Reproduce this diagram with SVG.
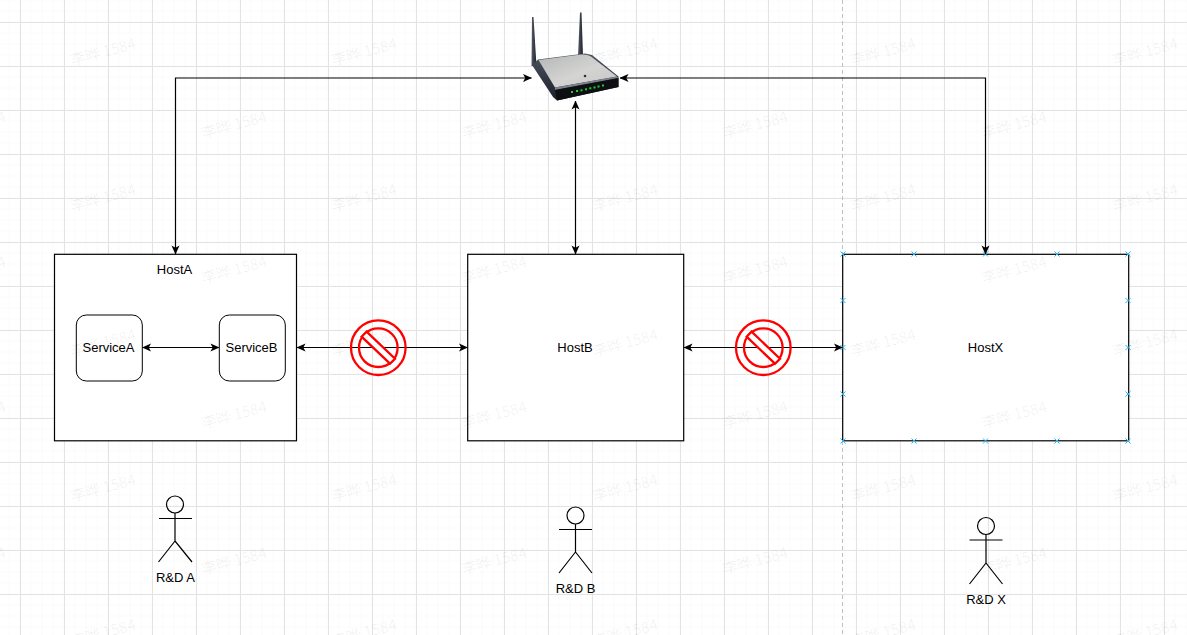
<svg xmlns="http://www.w3.org/2000/svg" width="1187" height="635" viewBox="0 0 1187 635">
<style>
text{font-family:"Liberation Sans",Arial,sans-serif;font-size:13px;fill:#000;text-anchor:middle}
.wm{font-family:"Noto Sans CJK SC","Liberation Sans",sans-serif;font-size:15px;fill:#000;fill-opacity:.06}
.box{fill:#fff;stroke:#000;stroke-width:1.2}
.svc{fill:#fff;stroke:#000;stroke-width:1}
.c{fill:none;stroke:#000;stroke-width:1.2;marker-start:url(#a);marker-end:url(#a)}
.actor{fill:none;stroke:#000;stroke-width:1.2}
.no{fill:none;stroke:#f00;stroke-width:2.3}
.bar{fill:#fff;stroke:#f00;stroke-width:2.3}
.x{stroke:#29b6f2;stroke-width:1;fill:none}
</style>
<defs>
<pattern id="minor" x="9.5" y="0.5" width="11" height="11" patternUnits="userSpaceOnUse"><path d="M11 0V11M0 11H11" fill="none" stroke="#f5f5f5" stroke-width="1"/></pattern>
<pattern id="major" x="20" y="22" width="44" height="44" patternUnits="userSpaceOnUse"><path d="M.5 0V44M0 .5H44" fill="none" stroke="#e3e3e3" stroke-width="1"/></pattern>
<marker id="a" viewBox="0 0 10 10" refX="9.5" refY="5" markerWidth="9" markerHeight="9" markerUnits="userSpaceOnUse" orient="auto-start-reverse"><path d="M0 .5L10 5L0 9.5L2.5 5Z" fill="#000"/></marker>
<linearGradient id="top" x1="0" y1="0" x2="1" y2="1"><stop offset="0" stop-color="#b4b6b5"/><stop offset=".55" stop-color="#d4d5d3"/><stop offset="1" stop-color="#c4c5c4"/></linearGradient>
<linearGradient id="rim" x1="0" y1="0" x2="0" y2="1"><stop offset="0" stop-color="#4d5462"/><stop offset="1" stop-color="#1c2029"/></linearGradient>
<linearGradient id="ant" x1="0" x2="1"><stop offset="0" stop-color="#555b66"/><stop offset="1" stop-color="#1c2028"/></linearGradient>
<g id="wm"><text class="wm" transform="rotate(-15)">李晔 1584</text></g>
<path id="mk" class="x" d="M-2.5 -2.5L2.5 2.5M-2.5 2.5L2.5 -2.5"/>
<g id="nosign"><circle class="no" r="27.300"/><circle class="no" r="19.300"/><path class="bar" d="M-16.700 -11L-11.700 -16L16.700 11L11.700 16Z"/></g>
</defs>
<rect width="1187" height="635" fill="#fff"/>
<rect width="1187" height="635" fill="url(#minor)"/>
<rect width="1187" height="635" fill="url(#major)"/>
<path d="M842.5 0V635" stroke="#c0c0c0" stroke-width="1" stroke-dasharray="4 3" fill="none"/>
<g id="hostA"><rect class="box" x="54.500" y="254.300" width="242" height="186.500"/><text x="174.500" y="274">HostA</text></g>
<g id="hostB"><rect class="box" x="467.700" y="254.300" width="216" height="186.500"/><text x="575" y="352">HostB</text></g>
<g id="hostX"><rect class="box" x="842.700" y="254.300" width="286" height="186.500"/><text x="985.500" y="352">HostX</text>
<use href="#mk" x="843" y="254"/><use href="#mk" x="914" y="254"/><use href="#mk" x="985.500" y="254"/><use href="#mk" x="1057" y="254"/><use href="#mk" x="1128" y="254"/>
<use href="#mk" x="843" y="300.500"/><use href="#mk" x="1128" y="300.500"/><use href="#mk" x="843" y="347.500"/><use href="#mk" x="1128" y="347.500"/><use href="#mk" x="843" y="394"/><use href="#mk" x="1128" y="394"/>
<use href="#mk" x="843" y="441"/><use href="#mk" x="914" y="441"/><use href="#mk" x="985.500" y="441"/><use href="#mk" x="1057" y="441"/><use href="#mk" x="1128" y="441"/></g>
<g id="serviceA"><rect class="svc" x="76.300" y="315" width="66" height="66" rx="10"/><text x="108.500" y="352">ServiceA</text></g>
<g id="serviceB"><rect class="svc" x="219.300" y="315" width="66" height="66" rx="10"/><text x="251.500" y="352">ServiceB</text></g>
<g id="connectors">
<path class="c" d="M175.500 254V78H531.500"/>
<path class="c" d="M985.500 254V78H620"/>
<path class="c" d="M575.500 254V101"/>
<path class="c" d="M142.500 347.500H219"/>
<path class="c" d="M297 347.500H467.500"/>
<path class="c" d="M684 347.500H842.500"/>
</g>
<g id="block1" transform="translate(378.300 347.700)"><use href="#nosign"/></g>
<g id="block2" transform="translate(763.300 347.700)"><use href="#nosign"/></g>
<g id="router">
<path d="M532 17L533.500 17L536.500 66L531.500 66Z" fill="url(#ant)"/>
<path d="M580 12.500L581.500 12.500L583 56L578 56Z" fill="url(#ant)"/>
<path d="M532 65L538 59.500L585 53.500L592 55L618.500 76.500L618.500 87L557 100.500L553 97Z" fill="url(#rim)"/>
<path d="M538.500 60L581 54.500Q587 54 591 56.500L617 76.500L555 87.500Z" fill="url(#top)"/>
<path d="M555 87.500L617 76.500L618.500 78L555 90Z" fill="#7d8288"/>
<path d="M555 90L618.500 78L618.500 87L557 100.500Z" fill="#0e0f12"/>
<g fill="#1fd02a"><rect x="571" y="91" width="2" height="2"/><rect x="576" y="90" width="2" height="2"/><rect x="580.500" y="89.300" width="2" height="2"/><rect x="585" y="88.300" width="2" height="2"/><rect x="589.300" y="87.300" width="2" height="2"/><rect x="593.500" y="86.500" width="2" height="2"/><rect x="597.500" y="85.500" width="2" height="2"/><rect x="602" y="84.500" width="2" height="2"/></g>
<circle cx="585" cy="76" r="1.300" fill="#333"/>
</g>
<g id="actorA"><circle class="actor" cx="175" cy="504.500" r="8.500"/><path class="actor" d="M175 513V541M159 518.500H192M175 541L158.500 562M175 541L192 562"/><text x="175.500" y="582">R&amp;D A</text></g>
<g id="actorB"><circle class="actor" cx="575.500" cy="515.500" r="8.500"/><path class="actor" d="M575.500 524V552M559 529.500H592M575.500 552L559 573M575.500 552L592 573"/><text x="575.500" y="593">R&amp;D B</text></g>
<g id="actorX"><circle class="actor" cx="986" cy="526" r="8.500"/><path class="actor" d="M986 535V563M969.500 540H1002.500M986 563L969.500 584M986 563L1002.500 584"/><text x="986" y="604">R&amp;D X</text></g>
<g id="watermarks" transform="translate(1.500 0)">
<use href="#wm" x="103" y="57"/><use href="#wm" x="364" y="57"/><use href="#wm" x="625" y="57"/><use href="#wm" x="883" y="57"/><use href="#wm" x="1145" y="57"/>
<use href="#wm" x="-27" y="130"/><use href="#wm" x="234" y="130"/><use href="#wm" x="494" y="130"/><use href="#wm" x="755" y="130"/><use href="#wm" x="1014" y="130"/>
<use href="#wm" x="103" y="203"/><use href="#wm" x="364" y="203"/><use href="#wm" x="625" y="203"/><use href="#wm" x="883" y="203"/><use href="#wm" x="1145" y="203"/>
<use href="#wm" x="-27" y="275"/><use href="#wm" x="234" y="275"/><use href="#wm" x="494" y="275"/><use href="#wm" x="755" y="275"/><use href="#wm" x="1014" y="275"/>
<use href="#wm" x="103" y="348"/><use href="#wm" x="364" y="348"/><use href="#wm" x="625" y="348"/><use href="#wm" x="883" y="348"/><use href="#wm" x="1145" y="348"/>
<use href="#wm" x="-27" y="420"/><use href="#wm" x="234" y="420"/><use href="#wm" x="494" y="420"/><use href="#wm" x="755" y="420"/><use href="#wm" x="1014" y="420"/>
<use href="#wm" x="103" y="493"/><use href="#wm" x="364" y="493"/><use href="#wm" x="625" y="493"/><use href="#wm" x="883" y="493"/><use href="#wm" x="1145" y="493"/>
<use href="#wm" x="-27" y="566"/><use href="#wm" x="234" y="566"/><use href="#wm" x="494" y="566"/><use href="#wm" x="755" y="566"/><use href="#wm" x="1014" y="566"/>
<use href="#wm" x="103" y="638"/><use href="#wm" x="364" y="638"/><use href="#wm" x="625" y="638"/><use href="#wm" x="883" y="638"/><use href="#wm" x="1145" y="638"/>
</g>
</svg>
